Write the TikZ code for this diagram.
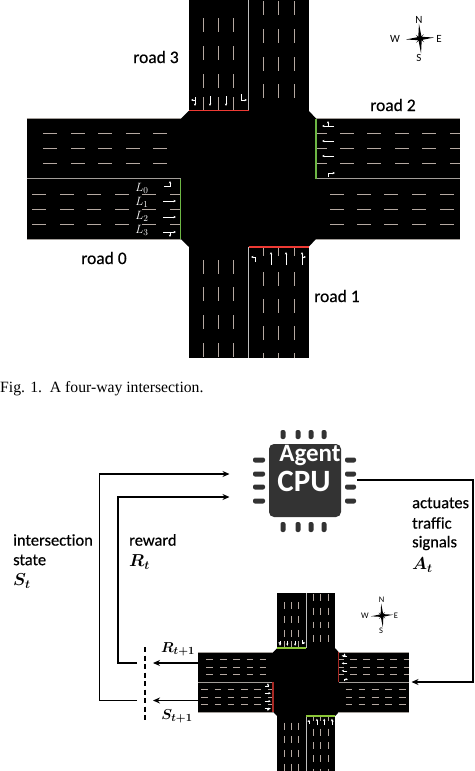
\documentclass[tikz,border=0pt]{standalone}
\usepackage{amsmath}
\usepackage{fontspec}
\usetikzlibrary{arrows.meta}
\setmainfont[Ligatures=CommonOff]{Carlito}
\newfontfamily\capfont{Liberation Serif}
\newfontfamily\labelfont[FakeBold=0.5,Ligatures=CommonOff]{Carlito}
\definecolor{edgegray}{HTML}{A39E9A}
\definecolor{lanegray}{HTML}{B5A9A2}
\definecolor{sigred}{HTML}{EE3A34}
\definecolor{siggreen}{HTML}{6DB644}
\definecolor{chipgray}{HTML}{333333}
\tikzset{
    lane/.style={lanegray,line width=0.6pt},
    sigline/.style={line width=1.5pt},
    sigarrow/.style={-{Stealth[length=2.5pt,width=2.2pt]},white,line width=0.4pt},
    roadlabel/.style={font=\fontsize{17.5}{17.5}\selectfont\labelfont,inner sep=0pt},
    textlabel/.style={font=\fontsize{16.5}{16.5}\selectfont\labelfont,inner sep=0pt,anchor=west},
    lanelabel/.style={white,font=\fontsize{13}{13}\selectfont,inner sep=0pt},
    conn/.style={-{Stealth[length=7pt,width=6pt]},line width=1.1pt},
    pin/.style={chipgray,rounded corners=2pt},
}
% draws one crossing: centre x, centre y, xscale, yscale, colour N-S, colour E-W
\newcommand{\crossroad}[6]{
    \begin{scope}[shift={(#1,#2)},xscale=#3,yscale=#4,shift={(-248.5,-178.5)}]
        \fill (188.5,0) rectangle (309,358);
        \fill (26.5,118.5) rectangle (460,239);
        \fill (181,118.5) -- (188.5,111) -- (309,111) -- (316,118.5) -- (316,239) -- (309,246.5) -- (188.5,246.5) -- (181,239) -- cycle;
        \foreach \y in {118.5,178.5,239}{\draw[edgegray,line width=0.8pt] (26.5,\y) -- (181,\y); \draw[edgegray,line width=0.8pt] (316,\y) -- (460,\y);}
        \draw[lightgray,line width=0.6pt] (248.5,0) -- (248.5,111);
        \draw[lightgray,line width=0.6pt] (248.5,246.5) -- (248.5,358);
        % lane marks
        \foreach \y in {133.5,148.5,163.5}{
            \foreach \x in {43,71,98,126,153}{\draw[lane] (\x,\y) -- ++(14,0);}
            \foreach \x in {340,367,395,422}{\draw[lane] (\x,\y) -- ++(14,0);}
            \draw[lane] (450,\y) -- (460,\y); \draw[lane] (316,\y) -- (327,\y);}
        \foreach \y in {194,209,224}{
            \foreach \x in {32,60,87,115,142}{\draw[lane] (\x,\y) -- ++(14,0);}
            \foreach \x in {330,357,384,412,440}{\draw[lane] (\x,\y) -- ++(14,0);}
            \draw[lane] (170,\y) -- (181,\y);}
        \foreach \x in {203,218.5,233.5}{
            \foreach \y in {18,46,74}{\draw[lane] (\x,\y) -- ++(0,14);}
            \foreach \y in {260,287,315,343}{\draw[lane] (\x,\y) -- ++(0,14);}
            \draw[lane] (\x,97) -- (\x,111);}
        \foreach \x in {263,278.5,294}{
            \foreach \y in {1,29,57,84}{\draw[lane] (\x,\y) -- ++(0,14);}
            \foreach \y in {272,299,326}{\draw[lane] (\x,\y) -- ++(0,14);}
            \draw[lane] (\x,353) -- (\x,358); \draw[lane] (\x,246.5) -- (\x,256);}
        % turn arrows at the stop lines
        \foreach \x in {210,226}{\draw[sigarrow] (\x,96) -- (\x,106);}
        \draw[sigarrow] (195,97) -- (195,106);
        \draw[sigarrow] (195,100) -- (191,100);
        \draw[sigarrow] (241,94) |- (247,100);
        \foreach \y in {141,156}{\draw[sigarrow] (334,\y) -- (322,\y);}
        \draw[sigarrow] (334,126) -- (322,126);
        \draw[sigarrow] (328,126) -- (328,121);
        \draw[sigarrow] (328,177) |- (335,173);
        \foreach \y in {201,217}{\draw[sigarrow] (163,\y) -- (176,\y);}
        \draw[sigarrow] (164,186) -| (170,181);
        \draw[sigarrow] (163,232) -- (176,232);
        \draw[sigarrow] (170,232) -- (170,237);
        \foreach \x in {271,286}{\draw[sigarrow] (\x,265) -- (\x,252);}
        \draw[sigarrow] (302,265) -- (302,252);
        \draw[sigarrow] (302,257) -- (306,257);
        \draw[sigarrow] (255,262) |- (251,257);
        % signals
        \draw[sigline,#5] (188.5,110.5) -- (248.5,110.5);
        \draw[sigline,#5] (248.5,247) -- (309,247);
        \draw[sigline,#6] (316,118.5) -- (316,178.5);
        \draw[sigline,#6] (180.5,178.5) -- (180.5,239);
    \end{scope}
}
% compass needle: x, y, size
\newcommand{\compass}[3]{
    \begin{scope}[shift={(#1,#2)},scale=#3,rotate=4]
        \fill (0,-15) -- (1.6,-1.6) -- (14,0) -- (1.6,1.6) -- (0,15) -- (-1.6,1.6) -- (-14,0) -- (-1.6,-1.6) -- cycle;
        \fill (-4,-4) -- (0,-1) -- (4,-4) -- (1,0) -- (4,4) -- (0,1) -- (-4,4) -- (-1,0) -- cycle;
    \end{scope}
}
\begin{document}
\begin{tikzpicture}[x=1pt,y=-1pt]
    \useasboundingbox (0,0) rectangle (474,771);
    % four-way intersection
    \crossroad{248.5}{178.5}{1}{1}{sigred}{siggreen}
    \compass{420}{38.5}{1}
    \foreach \n/\x/\y/\t in {cn/419/20/N,cw/395/39/W,ce/439/39/E,cs/419/58/S}{\node[inner sep=0pt,font=\fontsize{11}{11}\selectfont] (\n) at (\x,\y) {\t};}
    \node[roadlabel] (road3) at (156,57) {road 3};
    \node[roadlabel] (road2) at (393,105) {road 2};
    \node[roadlabel] (road0) at (104,258) {road 0};
    \node[roadlabel] (road1) at (337,296) {road 1};
    \foreach \i/\y in {0/188,1/202,2/216,3/230}{\node[lanelabel] (lane\i) at (142,\y) {$L_\i$};}
    \node[inner sep=0pt,anchor=west,font=\capfont\fontsize{15.7}{15.7}\selectfont] (caption) at (0,388.5) {Fig. 1.\ \ A four-way intersection.};
    % agent chip
    \node[fill=chipgray,rounded corners=5pt,minimum width=72pt,minimum height=73pt,inner sep=0pt] (agent) at (305,480.5) {};
    \foreach \x in {283,298,311,324}{
        \fill[pin] (\x-2.5,430) rectangle (\x+2.5,439);
        \fill[pin] (\x-2.5,522) rectangle (\x+2.5,532);}
    \foreach \y in {460,474,487,501}{
        \fill[pin] (253,\y-2.5) rectangle (265,\y+2.5);
        \fill[pin] (345,\y-2.5) rectangle (356,\y+2.5);}
    \node[white,inner sep=0pt,font=\fontsize{25}{25}\selectfont\bfseries] (agentname) at (310,456) {Agent};
    \node[white,inner sep=0pt,font=\fontsize{31}{31}\selectfont\bfseries] (cpuname) at (304,481) {CPU};
    % small intersection
    \crossroad{306}{682}{0.485}{0.498}{siggreen!80!yellow}{sigred!70!black}
    \compass{382}{615.5}{0.8}
    \foreach \n/\x/\y/\t in {sn/381.7/600/N,sw/365/616/W,se/396/616/E,ss/381/631/S}{\node[inner sep=0pt,font=\fontsize{8.5}{8.5}\selectfont] (\n) at (\x,\y) {\t};}
    \coordinate (smallwr) at (199,663);
    \coordinate (smallws) at (199,700.5);
    \coordinate (smalle) at (411.5,682);
    % observation line
    \coordinate (gatetop) at (145,647);
    \coordinate (gatebot) at (145,720);
    \draw[dash pattern=on 5pt off 3.5pt,line width=1.5pt] (gatetop) -- (gatebot);
    \coordinate (rtip) at (153,663);
    \coordinate (stip) at (153,700.5);
    \coordinate (rout) at (137,663);
    \coordinate (sout) at (137,700.5);
    \coordinate (rin) at (229.5,497);
    \coordinate (sin) at (229.5,474);
    \coordinate (aout) at (357,480);
    \coordinate (acorner) at (473,480);
    \draw[conn] (smallwr) -- (rtip);
    \draw[conn] (smallws) -- (stip);
    \draw[conn] (rout) -| (118,497) -- (rin);
    \draw[conn] (sout) -| (99.5,474) -- (sin);
    \draw[conn] (aout) -- (acorner) |- (smalle);
    % labels of the loop
    \node[textlabel] (statea) at (13,540) {intersection};
    \node[textlabel] (stateb) at (13,560) {state};
    \node[textlabel] (statec) at (13,581) {$\boldsymbol{S_t}$};
    \node[textlabel] (rewarda) at (129,540) {reward};
    \node[textlabel] (rewardb) at (129,562) {$\boldsymbol{R_t}$};
    \node[textlabel] (actsa) at (412,503) {actuates};
    \node[textlabel] (actsb) at (412,523) {traffic};
    \node[textlabel] (actsc) at (412,543) {signals};
    \node[textlabel] (actsd) at (412,565) {$\boldsymbol{A_t}$};
    \node[inner sep=0pt,font=\fontsize{15}{15}\selectfont] (rnext) at (178,649) {$\boldsymbol{R_{t+1}}$};
    \node[inner sep=0pt,font=\fontsize{15}{15}\selectfont] (snext) at (177,716) {$\boldsymbol{S_{t+1}}$};
\end{tikzpicture}
\end{document}
